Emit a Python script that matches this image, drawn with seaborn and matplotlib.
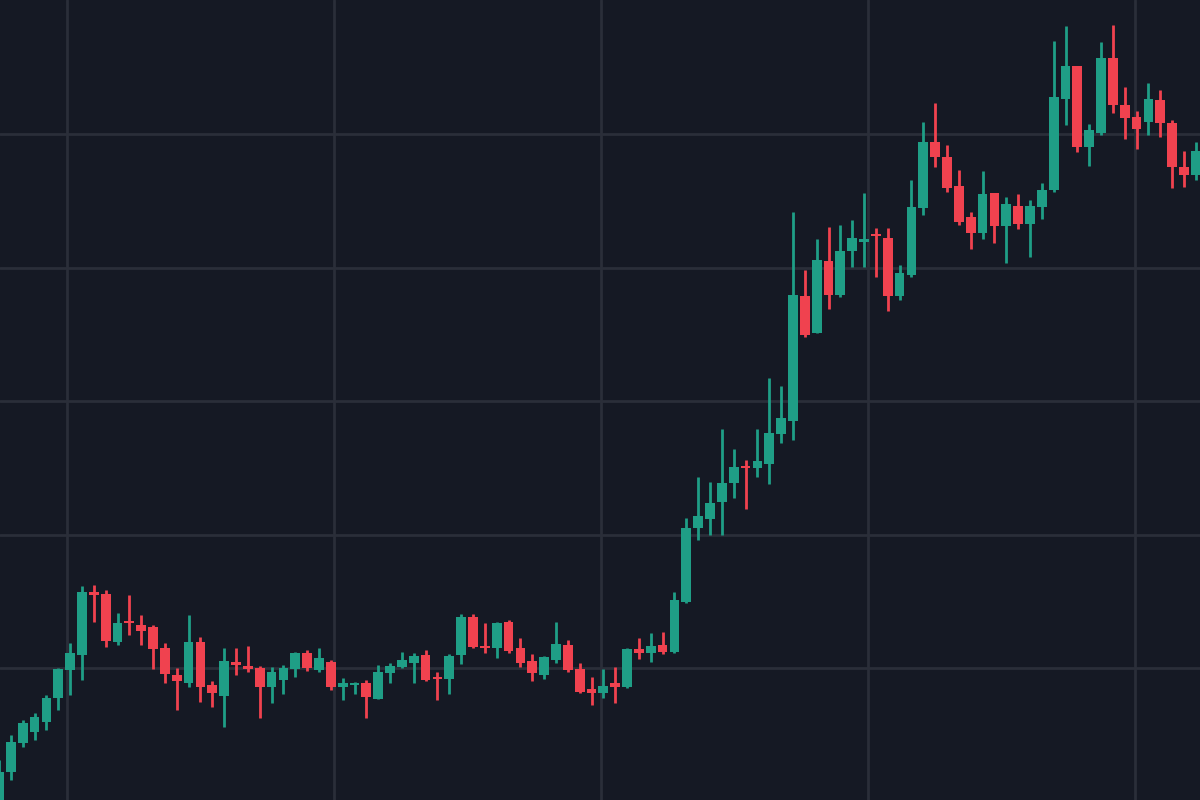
import matplotlib
matplotlib.use("Agg")
import matplotlib.pyplot as plt
import seaborn as sns
import numpy as np
import pandas as pd

opens = [-5,28,57,68,78,102,130,145,208,206,158,179,175,173,152,125,117,158,115,104,138,134,132,113,120,131,147,130,138,113,
         115,117,101,127,133,137,145,123,121,145,183,154,152,178,152,139,125,140,155,131,111,107,117,113,151,147,155,148,198,272,
         281,298,317,334,332,336,366,379,504,467,539,505,549,558,566,562,504,525,592,658,643,614,583,567,607,574,594,576,593,610,
         701,734,653,667,742,695,683,678,700,677,633,625]
closes = [28,58,77,83,102,131,147,208,205,159,177,177,169,151,126,119,158,113,107,139,135,131,113,128,132,147,132,142,113,117,
          117,103,128,134,140,144,120,121,144,183,153,152,177,149,137,127,143,156,130,108,107,114,113,151,147,154,148,200,272,284,
          297,317,333,332,339,367,382,505,465,540,505,549,562,561,564,504,527,593,658,643,612,578,567,606,574,596,576,594,610,703,
          734,653,670,742,695,682,671,701,677,633,625,649]
highs = [40,65,80,87,105,132,157,214,215,210,187,205,185,175,157,132,185,163,119,152,152,154,134,133,135,148,150,152,140,122,
         118,120,135,137,148,147,150,128,146,186,186,177,178,180,162,146,144,178,160,137,123,131,133,152,162,167,168,208,282,323,
         318,371,351,340,371,422,414,588,530,561,573,575,580,607,572,572,535,620,678,697,655,630,588,629,607,603,606,600,617,759,
         774,734,676,758,775,713,689,717,710,680,649,658]
lows = [-10,20,53,60,70,90,105,120,178,153,155,165,155,131,117,90,113,98,93,73,125,128,82,97,106,123,129,128,110,100,
        106,82,101,117,132,117,119,100,106,136,152,147,142,147,133,119,121,137,128,107,95,102,97,112,141,138,146,147,197,260,
        265,265,302,291,323,316,357,360,463,467,491,503,533,533,523,489,500,523,585,633,608,575,551,561,557,537,571,543,581,608,
        675,648,634,665,687,661,651,665,663,612,613,620]

df = pd.DataFrame({"open": opens, "close": closes, "high": highs, "low": lows})
df["idx"] = np.arange(len(df))
df["up"] = df["close"] >= df["open"]

BG = "#151924"
GREEN = "#1f9e86"
RED = "#f0424f"
GRID = "#2a2e39"

sns.set_style("dark", {"axes.facecolor": BG, "figure.facecolor": BG})
fig = plt.figure(figsize=(12, 8), dpi=100)
ax = fig.add_axes([0, 0, 1, 1])
ax.set_facecolor(BG)

for xv in [5.74, 28.27, 50.8, 73.3, 95.9]:
    ax.axvline(xv, color=GRID, lw=2, zorder=0)
for yv in [132, 265, 399, 532, 666]:
    ax.axhline(yv, color=GRID, lw=2, zorder=0)

colors = np.where(df["up"], GREEN, RED)
ax.vlines(df["idx"], df["low"], df["high"], colors=colors, lw=2, zorder=2)
bottoms = np.minimum(df["open"], df["close"])
heights = np.maximum(np.abs(df["close"] - df["open"]), 2.5)
ax.bar(df["idx"], heights, bottom=bottoms, width=0.82, color=colors, zorder=3, linewidth=0)

ax.set_xlim(0.084, 0.084 + 1200 / 11.85)
ax.set_ylim(0, 800)
ax.set_xticks([]); ax.set_yticks([])
for s in ax.spines.values():
    s.set_visible(False)
fig.savefig("out.png", dpi=100, facecolor=BG)
